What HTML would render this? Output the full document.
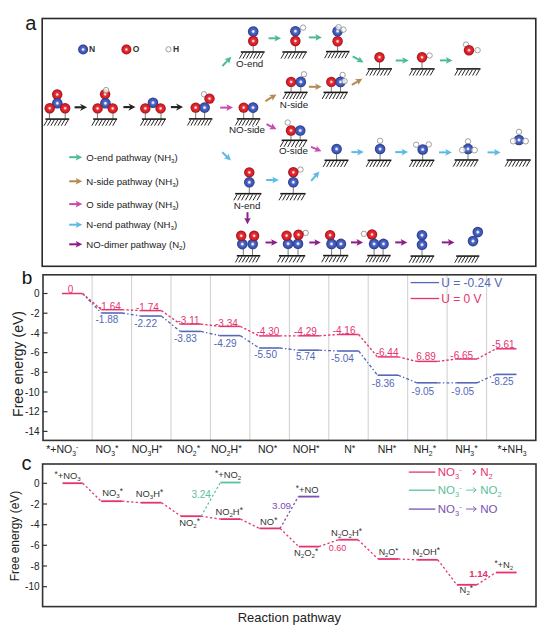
<!DOCTYPE html>
<html><head><meta charset="utf-8"><style>
html,body{margin:0;padding:0;background:#fff;}
svg{display:block;font-family:"Liberation Sans", sans-serif;}
</style></head><body>
<svg width="555" height="627" viewBox="0 0 555 627">
<defs>
<radialGradient id="gO" cx="0.5" cy="0.5" r="0.5" fx="0.5" fy="0.5">
<stop offset="0" stop-color="#ffffff"/><stop offset="0.13" stop-color="#fbd4d4"/><stop offset="0.35" stop-color="#e93036"/><stop offset="0.75" stop-color="#d21c24"/><stop offset="1" stop-color="#8e1218"/>
</radialGradient>
<radialGradient id="gN" cx="0.5" cy="0.5" r="0.5" fx="0.5" fy="0.5">
<stop offset="0" stop-color="#ffffff"/><stop offset="0.15" stop-color="#dfe6ff"/><stop offset="0.38" stop-color="#4d68c4"/><stop offset="0.75" stop-color="#3a52ac"/><stop offset="1" stop-color="#263684"/>
</radialGradient>
</defs>
<rect width="555" height="627" fill="#fff"/>
<rect x="42.2" y="18.5" width="493.6" height="247.8" fill="none" stroke="#2a2a2a" stroke-width="1.6"/>
<text x="25.3" y="29.6" font-size="20" fill="#1a1a1a" text-anchor="start" >a</text>
<circle cx="83.1" cy="49.5" r="5.0" fill="url(#gN)"/>
<text x="89.1" y="52.3" font-size="8.5" fill="#333" text-anchor="start" font-weight="bold">N</text>
<circle cx="126.4" cy="49.5" r="5.0" fill="url(#gO)"/>
<text x="132.8" y="52.3" font-size="8.5" fill="#333" text-anchor="start" font-weight="bold">O</text>
<circle cx="168.5" cy="49.3" r="2.6" fill="#fff" fill-opacity="0.82" stroke="#9a9a9a" stroke-width="0.95"/>
<text x="173.0" y="52.3" font-size="8.5" fill="#333" text-anchor="start" font-weight="bold">H</text>
<line x1="49.4" y1="112.0" x2="49.4" y2="119.0" stroke="#7a7a7a" stroke-width="1.0"/>
<line x1="65.2" y1="112.0" x2="65.2" y2="119.0" stroke="#7a7a7a" stroke-width="1.0"/>
<line x1="45.4" y1="119.1" x2="69.2" y2="119.1" stroke="#1a1a1a" stroke-width="1.6"/>
<path d="M44.0,125.7L47.4,119.8M47.5,125.7L50.9,119.8M50.9,125.7L54.3,119.8M54.4,125.7L57.8,119.8M57.9,125.7L61.3,119.8M61.3,125.7L64.7,119.8M64.8,125.7L68.2,119.8" stroke="#1a1a1a" stroke-width="0.95" fill="none"/>
<circle cx="57.2" cy="94.5" r="5.2" fill="url(#gO)"/>
<circle cx="57.3" cy="103.2" r="5.3" fill="url(#gN)"/>
<circle cx="49.7" cy="108.2" r="5.2" fill="url(#gO)"/>
<circle cx="65.1" cy="108.2" r="5.2" fill="url(#gO)"/>
<line x1="74.6" y1="107.3" x2="82.8" y2="107.3" stroke="#222" stroke-width="2.1"/>
<path d="M87.1,107.3L79.9,110.9L82.3,107.3L79.9,103.7Z" fill="#222"/>
<line x1="97.4" y1="112.0" x2="97.4" y2="119.0" stroke="#7a7a7a" stroke-width="1.0"/>
<line x1="113.0" y1="112.0" x2="113.0" y2="119.0" stroke="#7a7a7a" stroke-width="1.0"/>
<line x1="93.2" y1="119.1" x2="117.1" y2="119.1" stroke="#1a1a1a" stroke-width="1.6"/>
<path d="M91.8,125.7L95.2,119.8M95.3,125.7L98.7,119.8M98.8,125.7L102.2,119.8M102.2,125.7L105.7,119.8M105.7,125.7L109.1,119.8M109.2,125.7L112.6,119.8M112.7,125.7L116.1,119.8" stroke="#1a1a1a" stroke-width="0.95" fill="none"/>
<circle cx="105.1" cy="94.3" r="5.2" fill="url(#gO)"/>
<circle cx="105.4" cy="103.3" r="5.3" fill="url(#gN)"/>
<circle cx="106.1" cy="90.1" r="2.7" fill="#fff" fill-opacity="0.82" stroke="#9a9a9a" stroke-width="0.95"/>
<circle cx="97.6" cy="108.4" r="5.2" fill="url(#gO)"/>
<circle cx="112.7" cy="108.4" r="5.2" fill="url(#gO)"/>
<line x1="123.4" y1="107.1" x2="131.2" y2="107.1" stroke="#222" stroke-width="2.1"/>
<path d="M135.5,107.1L128.3,110.7L130.7,107.1L128.3,103.5Z" fill="#222"/>
<line x1="145.3" y1="112.0" x2="145.3" y2="119.0" stroke="#7a7a7a" stroke-width="1.0"/>
<line x1="161.0" y1="112.0" x2="161.0" y2="119.0" stroke="#7a7a7a" stroke-width="1.0"/>
<line x1="141.9" y1="119.1" x2="165.9" y2="119.1" stroke="#1a1a1a" stroke-width="1.6"/>
<path d="M140.5,125.7L143.9,119.8M144.0,125.7L147.4,119.8M147.5,125.7L150.9,119.8M151.0,125.7L154.4,119.8M154.5,125.7L157.9,119.8M158.0,125.7L161.4,119.8M161.5,125.7L164.9,119.8" stroke="#1a1a1a" stroke-width="0.95" fill="none"/>
<circle cx="153.0" cy="102.7" r="5.3" fill="url(#gN)"/>
<circle cx="145.3" cy="108.4" r="5.2" fill="url(#gO)"/>
<circle cx="160.6" cy="108.4" r="5.2" fill="url(#gO)"/>
<line x1="170.9" y1="107.1" x2="178.8" y2="107.1" stroke="#222" stroke-width="2.1"/>
<path d="M183.1,107.1L175.9,110.7L178.3,107.1L175.9,103.5Z" fill="#222"/>
<line x1="195.7" y1="112.0" x2="195.7" y2="119.0" stroke="#7a7a7a" stroke-width="1.0"/>
<line x1="204.6" y1="112.0" x2="204.6" y2="119.0" stroke="#7a7a7a" stroke-width="1.0"/>
<line x1="188.9" y1="118.9" x2="212.4" y2="118.9" stroke="#1a1a1a" stroke-width="1.6"/>
<path d="M187.5,125.5L190.9,119.6M190.9,125.5L194.3,119.6M194.3,125.5L197.7,119.6M197.8,125.5L201.2,119.6M201.2,125.5L204.6,119.6M204.6,125.5L208.0,119.6M208.0,125.5L211.4,119.6" stroke="#1a1a1a" stroke-width="0.95" fill="none"/>
<circle cx="204.0" cy="94.3" r="2.7" fill="#fff" fill-opacity="0.82" stroke="#9a9a9a" stroke-width="0.95"/>
<circle cx="195.7" cy="107.6" r="5.2" fill="url(#gO)"/>
<circle cx="204.6" cy="107.6" r="5.3" fill="url(#gN)"/>
<circle cx="209.5" cy="98.6" r="5.2" fill="url(#gO)"/>
<line x1="220.2" y1="107.6" x2="228.3" y2="107.6" stroke="#c84bb0" stroke-width="2.0"/>
<path d="M233.0,107.6L226.4,110.9L227.8,107.6L226.4,104.3Z" fill="#c84bb0"/>
<line x1="243.7" y1="112.0" x2="243.7" y2="119.0" stroke="#7a7a7a" stroke-width="1.0"/>
<line x1="253.0" y1="112.0" x2="253.0" y2="119.0" stroke="#7a7a7a" stroke-width="1.0"/>
<line x1="236.8" y1="118.9" x2="260.3" y2="118.9" stroke="#1a1a1a" stroke-width="1.6"/>
<path d="M235.4,125.5L238.8,119.6M238.8,125.5L242.2,119.6M242.2,125.5L245.6,119.6M245.7,125.5L249.1,119.6M249.1,125.5L252.5,119.6M252.5,125.5L255.9,119.6M255.9,125.5L259.3,119.6" stroke="#1a1a1a" stroke-width="0.95" fill="none"/>
<circle cx="243.7" cy="107.6" r="5.2" fill="url(#gO)"/>
<circle cx="253.0" cy="107.6" r="5.3" fill="url(#gN)"/>
<text x="247.0" y="132.5" font-size="9.8" fill="#222" text-anchor="middle" >NO-side</text>
<line x1="222.4" y1="66.0" x2="228.1" y2="60.1" stroke="#4dbb98" stroke-width="2.0"/>
<path d="M231.4,56.8L229.1,63.8L227.7,60.5L224.4,59.2Z" fill="#4dbb98"/>
<line x1="253.2" y1="45.0" x2="253.2" y2="52.0" stroke="#7a7a7a" stroke-width="1.0"/>
<line x1="240.8" y1="52.0" x2="264.6" y2="52.0" stroke="#1a1a1a" stroke-width="1.6"/>
<path d="M239.4,58.6L242.8,52.7M242.9,58.6L246.3,52.7M246.3,58.6L249.7,52.7M249.8,58.6L253.2,52.7M253.3,58.6L256.7,52.7M256.7,58.6L260.1,52.7M260.2,58.6L263.6,52.7" stroke="#1a1a1a" stroke-width="0.95" fill="none"/>
<circle cx="253.2" cy="31.5" r="5.3" fill="url(#gN)"/>
<circle cx="253.2" cy="41.0" r="5.2" fill="url(#gO)"/>
<text x="249.7" y="66.8" font-size="9.8" fill="#222" text-anchor="middle" >O-end</text>
<line x1="268.6" y1="38.3" x2="276.4" y2="38.3" stroke="#4dbb98" stroke-width="2.0"/>
<path d="M281.1,38.3L274.5,41.6L275.9,38.3L274.5,35.0Z" fill="#4dbb98"/>
<line x1="295.4" y1="45.0" x2="295.4" y2="52.0" stroke="#7a7a7a" stroke-width="1.0"/>
<line x1="282.4" y1="52.0" x2="306.8" y2="52.0" stroke="#1a1a1a" stroke-width="1.6"/>
<path d="M281.0,58.6L284.4,52.7M284.6,58.6L288.0,52.7M288.1,58.6L291.5,52.7M291.7,58.6L295.1,52.7M295.3,58.6L298.7,52.7M298.8,58.6L302.2,52.7M302.4,58.6L305.8,52.7" stroke="#1a1a1a" stroke-width="0.95" fill="none"/>
<circle cx="303.1" cy="27.6" r="2.7" fill="#fff" fill-opacity="0.82" stroke="#9a9a9a" stroke-width="0.95"/>
<circle cx="295.4" cy="31.2" r="5.3" fill="url(#gN)"/>
<circle cx="295.4" cy="41.0" r="5.2" fill="url(#gO)"/>
<line x1="308.9" y1="37.4" x2="317.2" y2="37.4" stroke="#4dbb98" stroke-width="2.0"/>
<path d="M321.9,37.4L315.3,40.7L316.7,37.4L315.3,34.1Z" fill="#4dbb98"/>
<line x1="337.6" y1="45.0" x2="337.6" y2="52.0" stroke="#7a7a7a" stroke-width="1.0"/>
<line x1="326.0" y1="51.6" x2="349.5" y2="51.6" stroke="#1a1a1a" stroke-width="1.6"/>
<path d="M324.6,58.2L328.0,52.3M328.0,58.2L331.4,52.3M331.4,58.2L334.8,52.3M334.9,58.2L338.2,52.3M338.3,58.2L341.7,52.3M341.7,58.2L345.1,52.3M345.1,58.2L348.5,52.3" stroke="#1a1a1a" stroke-width="0.95" fill="none"/>
<circle cx="337.6" cy="31.2" r="5.3" fill="url(#gN)"/>
<circle cx="338.6" cy="27.2" r="2.7" fill="#fff" fill-opacity="0.82" stroke="#9a9a9a" stroke-width="0.95"/>
<circle cx="343.5" cy="29.6" r="2.7" fill="#fff" fill-opacity="0.82" stroke="#9a9a9a" stroke-width="0.95"/>
<circle cx="337.6" cy="41.3" r="5.2" fill="url(#gO)"/>
<line x1="352.7" y1="56.3" x2="359.5" y2="60.2" stroke="#4dbb98" stroke-width="2.0"/>
<path d="M363.6,62.6L356.2,62.1L359.1,60.0L359.5,56.4Z" fill="#4dbb98"/>
<line x1="379.5" y1="61.0" x2="379.5" y2="68.9" stroke="#7a7a7a" stroke-width="1.0"/>
<line x1="367.6" y1="68.9" x2="392.0" y2="68.9" stroke="#1a1a1a" stroke-width="1.6"/>
<path d="M366.2,75.5L369.6,69.6M369.8,75.5L373.2,69.6M373.3,75.5L376.7,69.6M376.9,75.5L380.3,69.6M380.5,75.5L383.9,69.6M384.0,75.5L387.4,69.6M387.6,75.5L391.0,69.6" stroke="#1a1a1a" stroke-width="0.95" fill="none"/>
<circle cx="379.5" cy="57.2" r="5.2" fill="url(#gO)"/>
<line x1="395.7" y1="60.5" x2="404.1" y2="60.5" stroke="#4dbb98" stroke-width="2.0"/>
<path d="M408.8,60.5L402.2,63.8L403.6,60.5L402.2,57.2Z" fill="#4dbb98"/>
<line x1="422.0" y1="61.0" x2="422.0" y2="68.9" stroke="#7a7a7a" stroke-width="1.0"/>
<line x1="410.8" y1="68.9" x2="434.6" y2="68.9" stroke="#1a1a1a" stroke-width="1.6"/>
<path d="M409.4,75.5L412.8,69.6M412.9,75.5L416.3,69.6M416.3,75.5L419.7,69.6M419.8,75.5L423.2,69.6M423.3,75.5L426.7,69.6M426.7,75.5L430.1,69.6M430.2,75.5L433.6,69.6" stroke="#1a1a1a" stroke-width="0.95" fill="none"/>
<circle cx="429.6" cy="55.5" r="2.7" fill="#fff" fill-opacity="0.82" stroke="#9a9a9a" stroke-width="0.95"/>
<circle cx="422.0" cy="57.3" r="5.2" fill="url(#gO)"/>
<line x1="440.0" y1="60.4" x2="447.8" y2="60.4" stroke="#4dbb98" stroke-width="2.0"/>
<path d="M452.5,60.4L445.9,63.7L447.3,60.4L445.9,57.1Z" fill="#4dbb98"/>
<line x1="456.2" y1="68.9" x2="480.5" y2="68.9" stroke="#1a1a1a" stroke-width="1.6"/>
<path d="M454.8,75.5L458.2,69.6M458.4,75.5L461.8,69.6M461.9,75.5L465.3,69.6M465.5,75.5L468.9,69.6M469.0,75.5L472.4,69.6M472.6,75.5L475.9,69.6M476.1,75.5L479.5,69.6" stroke="#1a1a1a" stroke-width="0.95" fill="none"/>
<circle cx="466.0" cy="44.6" r="2.7" fill="#fff" fill-opacity="0.82" stroke="#9a9a9a" stroke-width="0.95"/>
<circle cx="477.6" cy="50.2" r="2.7" fill="#fff" fill-opacity="0.82" stroke="#9a9a9a" stroke-width="0.95"/>
<circle cx="469.0" cy="50.2" r="5.2" fill="url(#gO)"/>
<line x1="265.4" y1="101.1" x2="272.4" y2="96.9" stroke="#b48a52" stroke-width="2.0"/>
<path d="M276.5,94.5L272.5,100.7L272.0,97.1L269.1,95.0Z" fill="#b48a52"/>
<line x1="291.1" y1="85.0" x2="291.1" y2="92.4" stroke="#7a7a7a" stroke-width="1.0"/>
<line x1="300.8" y1="85.0" x2="300.8" y2="92.4" stroke="#7a7a7a" stroke-width="1.0"/>
<line x1="284.3" y1="92.4" x2="307.6" y2="92.4" stroke="#1a1a1a" stroke-width="1.6"/>
<path d="M282.9,99.0L286.3,93.1M286.3,99.0L289.7,93.1M289.7,99.0L293.1,93.1M293.1,99.0L296.5,93.1M296.4,99.0L299.8,93.1M299.8,99.0L303.2,93.1M303.2,99.0L306.6,93.1" stroke="#1a1a1a" stroke-width="0.95" fill="none"/>
<circle cx="291.1" cy="81.9" r="5.2" fill="url(#gO)"/>
<circle cx="300.8" cy="81.9" r="5.3" fill="url(#gN)"/>
<circle cx="304.0" cy="74.3" r="2.7" fill="#fff" fill-opacity="0.82" stroke="#9a9a9a" stroke-width="0.95"/>
<text x="294.0" y="107.6" font-size="9.8" fill="#222" text-anchor="middle" >N-side</text>
<line x1="308.9" y1="86.8" x2="317.0" y2="86.8" stroke="#b48a52" stroke-width="2.0"/>
<path d="M321.7,86.8L315.1,90.1L316.5,86.8L315.1,83.5Z" fill="#b48a52"/>
<line x1="331.3" y1="85.0" x2="331.3" y2="92.4" stroke="#7a7a7a" stroke-width="1.0"/>
<line x1="340.5" y1="85.0" x2="340.5" y2="92.4" stroke="#7a7a7a" stroke-width="1.0"/>
<line x1="323.5" y1="92.4" x2="347.8" y2="92.4" stroke="#1a1a1a" stroke-width="1.6"/>
<path d="M322.1,99.0L325.5,93.1M325.7,99.0L329.1,93.1M329.2,99.0L332.6,93.1M332.8,99.0L336.1,93.1M336.3,99.0L339.7,93.1M339.9,99.0L343.2,93.1M343.4,99.0L346.8,93.1" stroke="#1a1a1a" stroke-width="0.95" fill="none"/>
<circle cx="342.6" cy="74.9" r="2.7" fill="#fff" fill-opacity="0.82" stroke="#9a9a9a" stroke-width="0.95"/>
<circle cx="331.3" cy="81.9" r="5.2" fill="url(#gO)"/>
<circle cx="340.5" cy="81.9" r="5.3" fill="url(#gN)"/>
<circle cx="344.6" cy="81.1" r="2.7" fill="#fff" fill-opacity="0.82" stroke="#9a9a9a" stroke-width="0.95"/>
<line x1="351.9" y1="84.9" x2="358.2" y2="81.1" stroke="#b48a52" stroke-width="2.0"/>
<path d="M362.3,78.7L358.3,84.9L357.8,81.3L354.9,79.2Z" fill="#b48a52"/>
<line x1="266.5" y1="124.1" x2="272.3" y2="127.1" stroke="#c84bb0" stroke-width="2.0"/>
<path d="M276.5,129.3L269.1,129.2L271.8,126.9L272.1,123.3Z" fill="#c84bb0"/>
<line x1="291.0" y1="134.0" x2="291.0" y2="140.3" stroke="#7a7a7a" stroke-width="1.0"/>
<line x1="300.2" y1="134.0" x2="300.2" y2="140.3" stroke="#7a7a7a" stroke-width="1.0"/>
<line x1="281.6" y1="140.3" x2="307.2" y2="140.3" stroke="#1a1a1a" stroke-width="1.6"/>
<path d="M280.2,146.9L283.6,141.0M284.0,146.9L287.4,141.0M287.7,146.9L291.1,141.0M291.5,146.9L294.9,141.0M295.3,146.9L298.7,141.0M299.0,146.9L302.4,141.0M302.8,146.9L306.2,141.0" stroke="#1a1a1a" stroke-width="0.95" fill="none"/>
<circle cx="287.7" cy="122.5" r="2.7" fill="#fff" fill-opacity="0.82" stroke="#9a9a9a" stroke-width="0.95"/>
<circle cx="291.0" cy="130.5" r="5.2" fill="url(#gO)"/>
<circle cx="300.2" cy="130.5" r="5.3" fill="url(#gN)"/>
<text x="293.4" y="154.2" font-size="9.8" fill="#222" text-anchor="middle" >O-side</text>
<line x1="311.0" y1="146.8" x2="317.1" y2="149.4" stroke="#c84bb0" stroke-width="2.0"/>
<path d="M321.4,151.3L314.1,151.7L316.7,149.2L316.7,145.7Z" fill="#c84bb0"/>
<line x1="336.6" y1="152.0" x2="336.6" y2="160.3" stroke="#7a7a7a" stroke-width="1.0"/>
<line x1="324.5" y1="160.3" x2="348.5" y2="160.3" stroke="#1a1a1a" stroke-width="1.6"/>
<path d="M323.1,166.9L326.5,161.0M326.6,166.9L330.0,161.0M330.1,166.9L333.5,161.0M333.6,166.9L337.0,161.0M337.1,166.9L340.5,161.0M340.6,166.9L344.0,161.0M344.1,166.9L347.5,161.0" stroke="#1a1a1a" stroke-width="0.95" fill="none"/>
<circle cx="336.6" cy="149.0" r="5.3" fill="url(#gN)"/>
<line x1="351.4" y1="152.1" x2="359.1" y2="152.1" stroke="#5cbbe6" stroke-width="2.0"/>
<path d="M363.8,152.1L357.2,155.4L358.6,152.1L357.2,148.8Z" fill="#5cbbe6"/>
<line x1="380.1" y1="152.0" x2="380.1" y2="160.3" stroke="#7a7a7a" stroke-width="1.0"/>
<line x1="367.6" y1="160.3" x2="391.4" y2="160.3" stroke="#1a1a1a" stroke-width="1.6"/>
<path d="M366.2,166.9L369.6,161.0M369.7,166.9L373.1,161.0M373.1,166.9L376.5,161.0M376.6,166.9L380.0,161.0M380.1,166.9L383.5,161.0M383.5,166.9L386.9,161.0M387.0,166.9L390.4,161.0" stroke="#1a1a1a" stroke-width="0.95" fill="none"/>
<circle cx="380.1" cy="140.8" r="2.7" fill="#fff" fill-opacity="0.82" stroke="#9a9a9a" stroke-width="0.95"/>
<circle cx="380.1" cy="149.0" r="5.3" fill="url(#gN)"/>
<line x1="395.2" y1="152.1" x2="403.4" y2="152.1" stroke="#5cbbe6" stroke-width="2.0"/>
<path d="M408.1,152.1L401.5,155.4L402.9,152.1L401.5,148.8Z" fill="#5cbbe6"/>
<line x1="422.7" y1="152.0" x2="422.7" y2="160.3" stroke="#7a7a7a" stroke-width="1.0"/>
<line x1="410.8" y1="160.3" x2="434.4" y2="160.3" stroke="#1a1a1a" stroke-width="1.6"/>
<path d="M409.4,166.9L412.8,161.0M412.8,166.9L416.2,161.0M416.3,166.9L419.7,161.0M419.7,166.9L423.1,161.0M423.1,166.9L426.5,161.0M426.6,166.9L430.0,161.0M430.0,166.9L433.4,161.0" stroke="#1a1a1a" stroke-width="0.95" fill="none"/>
<circle cx="416.2" cy="144.7" r="2.7" fill="#fff" fill-opacity="0.82" stroke="#9a9a9a" stroke-width="0.95"/>
<circle cx="428.8" cy="144.4" r="2.7" fill="#fff" fill-opacity="0.82" stroke="#9a9a9a" stroke-width="0.95"/>
<circle cx="422.7" cy="149.5" r="5.3" fill="url(#gN)"/>
<line x1="439.0" y1="152.4" x2="447.2" y2="152.4" stroke="#5cbbe6" stroke-width="2.0"/>
<path d="M451.9,152.4L445.3,155.7L446.7,152.4L445.3,149.1Z" fill="#5cbbe6"/>
<line x1="468.0" y1="152.0" x2="468.0" y2="160.0" stroke="#7a7a7a" stroke-width="1.0"/>
<line x1="454.6" y1="160.0" x2="478.4" y2="160.0" stroke="#1a1a1a" stroke-width="1.6"/>
<path d="M453.2,166.6L456.6,160.7M456.7,166.6L460.1,160.7M460.1,166.6L463.5,160.7M463.6,166.6L467.0,160.7M467.1,166.6L470.5,160.7M470.5,166.6L473.9,160.7M474.0,166.6L477.4,160.7" stroke="#1a1a1a" stroke-width="0.95" fill="none"/>
<circle cx="468.0" cy="141.4" r="2.7" fill="#fff" fill-opacity="0.82" stroke="#9a9a9a" stroke-width="0.95"/>
<circle cx="468.0" cy="148.9" r="5.3" fill="url(#gN)"/>
<circle cx="462.4" cy="150.1" r="2.9" fill="#fff" fill-opacity="0.82" stroke="#9a9a9a" stroke-width="0.95"/>
<circle cx="474.5" cy="150.1" r="2.9" fill="#fff" fill-opacity="0.82" stroke="#9a9a9a" stroke-width="0.95"/>
<line x1="487.5" y1="152.4" x2="495.9" y2="152.4" stroke="#5cbbe6" stroke-width="2.0"/>
<path d="M500.6,152.4L494.0,155.7L495.4,152.4L494.0,149.1Z" fill="#5cbbe6"/>
<line x1="506.5" y1="160.0" x2="530.7" y2="160.0" stroke="#1a1a1a" stroke-width="1.6"/>
<path d="M505.1,166.6L508.5,160.7M508.6,166.6L512.0,160.7M512.2,166.6L515.6,160.7M515.7,166.6L519.1,160.7M519.2,166.6L522.6,160.7M522.8,166.6L526.2,160.7M526.3,166.6L529.7,160.7" stroke="#1a1a1a" stroke-width="0.95" fill="none"/>
<circle cx="519.0" cy="131.8" r="2.7" fill="#fff" fill-opacity="0.82" stroke="#9a9a9a" stroke-width="0.95"/>
<circle cx="519.0" cy="140.0" r="5.3" fill="url(#gN)"/>
<circle cx="513.2" cy="141.1" r="2.9" fill="#fff" fill-opacity="0.82" stroke="#9a9a9a" stroke-width="0.95"/>
<circle cx="525.6" cy="141.1" r="2.9" fill="#fff" fill-opacity="0.82" stroke="#9a9a9a" stroke-width="0.95"/>
<line x1="222.3" y1="152.3" x2="227.5" y2="157.2" stroke="#5cbbe6" stroke-width="2.0"/>
<path d="M230.9,160.4L223.9,158.3L227.1,156.8L228.4,153.4Z" fill="#5cbbe6"/>
<line x1="249.3" y1="186.0" x2="249.3" y2="193.7" stroke="#7a7a7a" stroke-width="1.0"/>
<line x1="235.2" y1="193.7" x2="261.4" y2="193.7" stroke="#1a1a1a" stroke-width="1.6"/>
<path d="M233.8,200.3L237.2,194.4M237.7,200.3L241.1,194.4M241.5,200.3L244.9,194.4M245.4,200.3L248.8,194.4M249.3,200.3L252.7,194.4M253.1,200.3L256.5,194.4M257.0,200.3L260.4,194.4" stroke="#1a1a1a" stroke-width="0.95" fill="none"/>
<circle cx="249.3" cy="172.4" r="5.2" fill="url(#gO)"/>
<circle cx="249.3" cy="182.3" r="5.3" fill="url(#gN)"/>
<text x="247.0" y="208.5" font-size="9.8" fill="#222" text-anchor="middle" >N-end</text>
<line x1="266.2" y1="180.0" x2="274.2" y2="180.0" stroke="#5cbbe6" stroke-width="2.0"/>
<path d="M278.9,180.0L272.3,183.3L273.7,180.0L272.3,176.7Z" fill="#5cbbe6"/>
<line x1="293.3" y1="186.0" x2="293.3" y2="193.7" stroke="#7a7a7a" stroke-width="1.0"/>
<line x1="280.3" y1="193.7" x2="305.6" y2="193.7" stroke="#1a1a1a" stroke-width="1.6"/>
<path d="M278.9,200.3L282.3,194.4M282.6,200.3L286.0,194.4M286.3,200.3L289.7,194.4M290.1,200.3L293.5,194.4M293.8,200.3L297.2,194.4M297.5,200.3L300.9,194.4M301.2,200.3L304.6,194.4" stroke="#1a1a1a" stroke-width="0.95" fill="none"/>
<circle cx="300.5" cy="169.5" r="2.7" fill="#fff" fill-opacity="0.82" stroke="#9a9a9a" stroke-width="0.95"/>
<circle cx="293.3" cy="172.3" r="5.2" fill="url(#gO)"/>
<circle cx="293.3" cy="182.2" r="5.3" fill="url(#gN)"/>
<line x1="311.1" y1="180.8" x2="316.3" y2="175.0" stroke="#5cbbe6" stroke-width="2.0"/>
<path d="M319.4,171.5L317.5,178.6L315.9,175.4L312.5,174.2Z" fill="#5cbbe6"/>
<line x1="247.5" y1="212.2" x2="247.5" y2="219.6" stroke="#8a1f88" stroke-width="2.0"/>
<path d="M247.5,224.3L244.2,217.7L247.5,219.1L250.8,217.7Z" fill="#8a1f88"/>
<line x1="243.3" y1="247.0" x2="243.3" y2="255.7" stroke="#7a7a7a" stroke-width="1.0"/>
<line x1="252.5" y1="247.0" x2="252.5" y2="255.7" stroke="#7a7a7a" stroke-width="1.0"/>
<line x1="236.8" y1="255.8" x2="260.3" y2="255.8" stroke="#1a1a1a" stroke-width="1.6"/>
<path d="M235.4,262.4L238.8,256.5M238.8,262.4L242.2,256.5M242.2,262.4L245.6,256.5M245.7,262.4L249.1,256.5M249.1,262.4L252.5,256.5M252.5,262.4L255.9,256.5M255.9,262.4L259.3,256.5" stroke="#1a1a1a" stroke-width="0.95" fill="none"/>
<circle cx="242.3" cy="244.1" r="5.3" fill="url(#gN)"/>
<circle cx="252.7" cy="244.1" r="5.3" fill="url(#gN)"/>
<circle cx="241.2" cy="235.8" r="5.2" fill="url(#gO)"/>
<circle cx="254.1" cy="235.8" r="5.2" fill="url(#gO)"/>
<line x1="265.5" y1="242.5" x2="273.0" y2="242.5" stroke="#8a1f88" stroke-width="2.0"/>
<path d="M277.7,242.5L271.1,245.8L272.5,242.5L271.1,239.2Z" fill="#8a1f88"/>
<line x1="288.1" y1="247.0" x2="288.1" y2="255.7" stroke="#7a7a7a" stroke-width="1.0"/>
<line x1="298.0" y1="247.0" x2="298.0" y2="255.7" stroke="#7a7a7a" stroke-width="1.0"/>
<line x1="279.0" y1="255.8" x2="305.2" y2="255.8" stroke="#1a1a1a" stroke-width="1.6"/>
<path d="M277.6,262.4L281.0,256.5M281.5,262.4L284.9,256.5M285.3,262.4L288.7,256.5M289.2,262.4L292.6,256.5M293.1,262.4L296.5,256.5M296.9,262.4L300.3,256.5M300.8,262.4L304.2,256.5" stroke="#1a1a1a" stroke-width="0.95" fill="none"/>
<circle cx="305.7" cy="232.9" r="2.7" fill="#fff" fill-opacity="0.82" stroke="#9a9a9a" stroke-width="0.95"/>
<circle cx="288.1" cy="243.7" r="5.3" fill="url(#gN)"/>
<circle cx="298.0" cy="243.7" r="5.3" fill="url(#gN)"/>
<circle cx="286.6" cy="235.6" r="5.2" fill="url(#gO)"/>
<circle cx="298.5" cy="234.7" r="5.2" fill="url(#gO)"/>
<line x1="309.3" y1="242.5" x2="316.2" y2="242.5" stroke="#8a1f88" stroke-width="2.0"/>
<path d="M320.9,242.5L314.3,245.8L315.7,242.5L314.3,239.2Z" fill="#8a1f88"/>
<line x1="331.6" y1="247.0" x2="331.6" y2="255.7" stroke="#7a7a7a" stroke-width="1.0"/>
<line x1="340.6" y1="247.0" x2="340.6" y2="255.7" stroke="#7a7a7a" stroke-width="1.0"/>
<line x1="323.1" y1="255.6" x2="348.3" y2="255.6" stroke="#1a1a1a" stroke-width="1.6"/>
<path d="M321.7,262.2L325.1,256.3M325.4,262.2L328.8,256.3M329.1,262.2L332.5,256.3M332.8,262.2L336.2,256.3M336.5,262.2L339.9,256.3M340.2,262.2L343.6,256.3M343.9,262.2L347.3,256.3" stroke="#1a1a1a" stroke-width="0.95" fill="none"/>
<circle cx="330.1" cy="235.1" r="5.2" fill="url(#gO)"/>
<circle cx="340.9" cy="243.9" r="5.3" fill="url(#gN)"/>
<circle cx="331.5" cy="243.9" r="5.3" fill="url(#gN)"/>
<line x1="351.0" y1="242.4" x2="358.4" y2="242.4" stroke="#8a1f88" stroke-width="2.0"/>
<path d="M363.1,242.4L356.5,245.7L357.9,242.4L356.5,239.1Z" fill="#8a1f88"/>
<line x1="374.1" y1="247.0" x2="374.1" y2="255.7" stroke="#7a7a7a" stroke-width="1.0"/>
<line x1="383.1" y1="247.0" x2="383.1" y2="255.7" stroke="#7a7a7a" stroke-width="1.0"/>
<line x1="367.3" y1="255.6" x2="390.7" y2="255.6" stroke="#1a1a1a" stroke-width="1.6"/>
<path d="M365.9,262.2L369.3,256.3M369.3,262.2L372.7,256.3M372.7,262.2L376.1,256.3M376.1,262.2L379.5,256.3M379.5,262.2L382.9,256.3M382.9,262.2L386.3,256.3M386.3,262.2L389.7,256.3" stroke="#1a1a1a" stroke-width="0.95" fill="none"/>
<circle cx="363.9" cy="233.8" r="2.7" fill="#fff" fill-opacity="0.82" stroke="#9a9a9a" stroke-width="0.95"/>
<circle cx="372.0" cy="234.5" r="5.2" fill="url(#gO)"/>
<circle cx="383.5" cy="243.9" r="5.3" fill="url(#gN)"/>
<circle cx="374.1" cy="243.9" r="5.3" fill="url(#gN)"/>
<line x1="395.2" y1="242.4" x2="402.6" y2="242.4" stroke="#8a1f88" stroke-width="2.0"/>
<path d="M407.3,242.4L400.7,245.7L402.1,242.4L400.7,239.1Z" fill="#8a1f88"/>
<line x1="422.0" y1="249.0" x2="422.0" y2="256.1" stroke="#7a7a7a" stroke-width="1.0"/>
<line x1="410.5" y1="256.1" x2="434.2" y2="256.1" stroke="#1a1a1a" stroke-width="1.6"/>
<path d="M409.1,262.7L412.5,256.8M412.6,262.7L415.9,256.8M416.0,262.7L419.4,256.8M419.5,262.7L422.9,256.8M422.9,262.7L426.3,256.8M426.4,262.7L429.8,256.8M429.8,262.7L433.2,256.8" stroke="#1a1a1a" stroke-width="0.95" fill="none"/>
<circle cx="422.0" cy="235.2" r="5.3" fill="url(#gN)"/>
<circle cx="422.0" cy="244.7" r="5.3" fill="url(#gN)"/>
<line x1="441.8" y1="242.4" x2="449.8" y2="242.4" stroke="#8a1f88" stroke-width="2.0"/>
<path d="M454.5,242.4L447.9,245.7L449.3,242.4L447.9,239.1Z" fill="#8a1f88"/>
<line x1="456.2" y1="256.1" x2="479.3" y2="256.1" stroke="#1a1a1a" stroke-width="1.6"/>
<path d="M454.8,262.7L458.2,256.8M458.2,262.7L461.6,256.8M461.5,262.7L464.9,256.8M464.9,262.7L468.2,256.8M468.2,262.7L471.6,256.8M471.6,262.7L474.9,256.8M474.9,262.7L478.3,256.8" stroke="#1a1a1a" stroke-width="0.95" fill="none"/>
<circle cx="477.8" cy="232.1" r="5.3" fill="url(#gN)"/>
<circle cx="473.0" cy="241.1" r="5.3" fill="url(#gN)"/>
<line x1="69.2" y1="157.2" x2="77.6" y2="157.2" stroke="#4dbb98" stroke-width="2.0"/>
<path d="M82.3,157.2L75.7,160.5L77.1,157.2L75.7,153.9Z" fill="#4dbb98"/>
<text x="86.3" y="160.8" font-size="9.6" fill="#222" text-anchor="start" >O-end pathway (NH<tspan font-size="6.24" baseline-shift="-2.40">3</tspan>)</text>
<line x1="69.2" y1="181.3" x2="77.6" y2="181.3" stroke="#b48a52" stroke-width="2.0"/>
<path d="M82.3,181.3L75.7,184.6L77.1,181.3L75.7,178.0Z" fill="#b48a52"/>
<text x="86.3" y="184.9" font-size="9.6" fill="#222" text-anchor="start" >N-side pathway (NH<tspan font-size="6.24" baseline-shift="-2.40">3</tspan>)</text>
<line x1="69.2" y1="204.1" x2="77.6" y2="204.1" stroke="#c84bb0" stroke-width="2.0"/>
<path d="M82.3,204.1L75.7,207.4L77.1,204.1L75.7,200.8Z" fill="#c84bb0"/>
<text x="86.3" y="207.7" font-size="9.6" fill="#222" text-anchor="start" >O side pathway (NH<tspan font-size="6.24" baseline-shift="-2.40">3</tspan>)</text>
<line x1="69.2" y1="224.7" x2="77.6" y2="224.7" stroke="#5cbbe6" stroke-width="2.0"/>
<path d="M82.3,224.7L75.7,228.0L77.1,224.7L75.7,221.4Z" fill="#5cbbe6"/>
<text x="86.3" y="228.3" font-size="9.6" fill="#222" text-anchor="start" >N-end pathway (NH<tspan font-size="6.24" baseline-shift="-2.40">3</tspan>)</text>
<line x1="69.2" y1="244.3" x2="77.6" y2="244.3" stroke="#8a1f88" stroke-width="2.0"/>
<path d="M82.3,244.3L75.7,247.6L77.1,244.3L75.7,241.0Z" fill="#8a1f88"/>
<text x="86.3" y="247.9" font-size="9.6" fill="#222" text-anchor="start" >NO-dimer pathway (N<tspan font-size="6.24" baseline-shift="-2.40">2</tspan>)</text>
<text x="21.8" y="284.0" font-size="19" fill="#111" text-anchor="start" >b</text>
<line x1="92.1" y1="275" x2="92.1" y2="440" stroke="#c8c8c8" stroke-width="0.9"/>
<line x1="131.6" y1="275" x2="131.6" y2="440" stroke="#c8c8c8" stroke-width="0.9"/>
<line x1="171.0" y1="275" x2="171.0" y2="440" stroke="#c8c8c8" stroke-width="0.9"/>
<line x1="210.4" y1="275" x2="210.4" y2="440" stroke="#c8c8c8" stroke-width="0.9"/>
<line x1="249.9" y1="275" x2="249.9" y2="440" stroke="#c8c8c8" stroke-width="0.9"/>
<line x1="289.4" y1="275" x2="289.4" y2="440" stroke="#c8c8c8" stroke-width="0.9"/>
<line x1="328.8" y1="275" x2="328.8" y2="440" stroke="#c8c8c8" stroke-width="0.9"/>
<line x1="368.2" y1="275" x2="368.2" y2="440" stroke="#c8c8c8" stroke-width="0.9"/>
<line x1="407.7" y1="275" x2="407.7" y2="440" stroke="#c8c8c8" stroke-width="0.9"/>
<line x1="447.1" y1="275" x2="447.1" y2="440" stroke="#c8c8c8" stroke-width="0.9"/>
<line x1="486.6" y1="275" x2="486.6" y2="440" stroke="#c8c8c8" stroke-width="0.9"/>
<rect x="43" y="274.8" width="492.8" height="165.6" fill="none" stroke="#333" stroke-width="1.6"/>
<line x1="43" y1="293.5" x2="47.5" y2="293.5" stroke="#333" stroke-width="1.2"/>
<text x="39.5" y="297.1" font-size="10" fill="#222" text-anchor="end" >0</text>
<line x1="43" y1="313.2" x2="47.5" y2="313.2" stroke="#333" stroke-width="1.2"/>
<text x="39.5" y="316.8" font-size="10" fill="#222" text-anchor="end" >-2</text>
<line x1="43" y1="332.9" x2="47.5" y2="332.9" stroke="#333" stroke-width="1.2"/>
<text x="39.5" y="336.5" font-size="10" fill="#222" text-anchor="end" >-4</text>
<line x1="43" y1="352.6" x2="47.5" y2="352.6" stroke="#333" stroke-width="1.2"/>
<text x="39.5" y="356.2" font-size="10" fill="#222" text-anchor="end" >-6</text>
<line x1="43" y1="372.3" x2="47.5" y2="372.3" stroke="#333" stroke-width="1.2"/>
<text x="39.5" y="375.9" font-size="10" fill="#222" text-anchor="end" >-8</text>
<line x1="43" y1="392.0" x2="47.5" y2="392.0" stroke="#333" stroke-width="1.2"/>
<text x="39.5" y="395.6" font-size="10" fill="#222" text-anchor="end" >-10</text>
<line x1="43" y1="411.7" x2="47.5" y2="411.7" stroke="#333" stroke-width="1.2"/>
<text x="39.5" y="415.3" font-size="10" fill="#222" text-anchor="end" >-12</text>
<line x1="43" y1="431.4" x2="47.5" y2="431.4" stroke="#333" stroke-width="1.2"/>
<text x="39.5" y="435.0" font-size="10" fill="#222" text-anchor="end" >-14</text>
<text x="0" y="0" font-size="14" fill="#222" text-anchor="middle" transform="translate(22.5,364) rotate(-90)">Free energy (eV)</text>
<path d="M82.5,293.5L101.4,313.0M122.0,313.0L140.8,316.0M161.4,316.0L180.2,331.4M200.9,331.4L219.7,335.6M240.3,335.6L259.1,348.0M279.8,348.0L298.6,350.2M319.2,350.2L338.1,351.0M358.7,351.0L377.5,375.2M398.1,375.2L416.9,382.8M437.6,382.8L456.4,382.8M477.0,382.8L495.9,374.4" stroke="#5467b8" stroke-width="1.35" fill="none" stroke-dasharray="3,2.2,1.4,2.2"/>
<path d="M82.5,293.5L101.4,309.7M122.0,309.7L140.8,310.6M161.4,310.6L180.2,324.1M200.9,324.1L219.7,326.4M240.3,326.4L259.1,335.9M279.8,335.9L298.6,335.8M319.2,335.8L338.1,334.5M358.7,334.5L377.5,356.9M398.1,356.9L416.9,361.4M437.6,361.4L456.4,359.0M477.0,359.0L495.9,348.8" stroke="#e5336f" stroke-width="1.35" fill="none" stroke-dasharray="2.4,2"/>
<line x1="61.9" y1="293.5" x2="82.5" y2="293.5" stroke="#e5336f" stroke-width="1.5"/>
<line x1="101.4" y1="313.0" x2="122.0" y2="313.0" stroke="#5467b8" stroke-width="1.6"/>
<line x1="101.4" y1="309.7" x2="122.0" y2="309.7" stroke="#e5336f" stroke-width="1.5"/>
<line x1="140.8" y1="316.0" x2="161.4" y2="316.0" stroke="#5467b8" stroke-width="1.6"/>
<line x1="140.8" y1="310.6" x2="161.4" y2="310.6" stroke="#e5336f" stroke-width="1.5"/>
<line x1="180.2" y1="331.4" x2="200.9" y2="331.4" stroke="#5467b8" stroke-width="1.6"/>
<line x1="180.2" y1="324.1" x2="200.9" y2="324.1" stroke="#e5336f" stroke-width="1.5"/>
<line x1="219.7" y1="335.6" x2="240.3" y2="335.6" stroke="#5467b8" stroke-width="1.6"/>
<line x1="219.7" y1="326.4" x2="240.3" y2="326.4" stroke="#e5336f" stroke-width="1.5"/>
<line x1="259.1" y1="348.0" x2="279.8" y2="348.0" stroke="#5467b8" stroke-width="1.6"/>
<line x1="259.1" y1="335.9" x2="279.8" y2="335.9" stroke="#e5336f" stroke-width="1.5"/>
<line x1="298.6" y1="350.2" x2="319.2" y2="350.2" stroke="#5467b8" stroke-width="1.6"/>
<line x1="298.6" y1="335.8" x2="319.2" y2="335.8" stroke="#e5336f" stroke-width="1.5"/>
<line x1="338.1" y1="351.0" x2="358.7" y2="351.0" stroke="#5467b8" stroke-width="1.6"/>
<line x1="338.1" y1="334.5" x2="358.7" y2="334.5" stroke="#e5336f" stroke-width="1.5"/>
<line x1="377.5" y1="375.2" x2="398.1" y2="375.2" stroke="#5467b8" stroke-width="1.6"/>
<line x1="377.5" y1="356.9" x2="398.1" y2="356.9" stroke="#e5336f" stroke-width="1.5"/>
<line x1="416.9" y1="382.8" x2="437.6" y2="382.8" stroke="#5467b8" stroke-width="1.6"/>
<line x1="416.9" y1="361.4" x2="437.6" y2="361.4" stroke="#e5336f" stroke-width="1.5"/>
<line x1="456.4" y1="382.8" x2="477.0" y2="382.8" stroke="#5467b8" stroke-width="1.6"/>
<line x1="456.4" y1="359.0" x2="477.0" y2="359.0" stroke="#e5336f" stroke-width="1.5"/>
<line x1="495.9" y1="374.4" x2="516.5" y2="374.4" stroke="#5467b8" stroke-width="1.6"/>
<line x1="495.9" y1="348.8" x2="516.5" y2="348.8" stroke="#e5336f" stroke-width="1.5"/>
<text x="67.8" y="293.0" font-size="10" fill="#e5336f" text-anchor="start" >0</text>
<text x="98.0" y="310.0" font-size="10" fill="#e5336f" text-anchor="start" >-1.64</text>
<text x="136.0" y="310.8" font-size="10" fill="#e5336f" text-anchor="start" >-1.74</text>
<text x="177.5" y="324.4" font-size="10" fill="#e5336f" text-anchor="start" >-3.11</text>
<text x="215.0" y="326.7" font-size="10" fill="#e5336f" text-anchor="start" >-3.34</text>
<text x="256.5" y="335.2" font-size="10" fill="#e5336f" text-anchor="start" >-4.30</text>
<text x="294.0" y="335.0" font-size="10" fill="#e5336f" text-anchor="start" >-4.29</text>
<text x="332.7" y="334.0" font-size="10" fill="#e5336f" text-anchor="start" >-4.16</text>
<text x="375.7" y="356.2" font-size="10" fill="#e5336f" text-anchor="start" >-6.44</text>
<text x="416.3" y="360.4" font-size="10" fill="#e5336f" text-anchor="start" >6.89</text>
<text x="450.3" y="358.5" font-size="10" fill="#e5336f" text-anchor="start" >-6.65</text>
<text x="491.8" y="348.4" font-size="10" fill="#e5336f" text-anchor="start" >-5.61</text>
<text x="95.5" y="323.2" font-size="10" fill="#5467b8" text-anchor="start" >-1.88</text>
<text x="134.2" y="326.7" font-size="10" fill="#5467b8" text-anchor="start" >-2.22</text>
<text x="174.0" y="342.2" font-size="10" fill="#5467b8" text-anchor="start" >-3.83</text>
<text x="213.8" y="346.8" font-size="10" fill="#5467b8" text-anchor="start" >-4.29</text>
<text x="254.2" y="358.2" font-size="10" fill="#5467b8" text-anchor="start" >-5.50</text>
<text x="295.9" y="360.3" font-size="10" fill="#5467b8" text-anchor="start" >5.74</text>
<text x="331.0" y="361.7" font-size="10" fill="#5467b8" text-anchor="start" >-5.04</text>
<text x="371.8" y="387.0" font-size="10" fill="#5467b8" text-anchor="start" >-8.36</text>
<text x="411.4" y="394.5" font-size="10" fill="#5467b8" text-anchor="start" >-9.05</text>
<text x="451.3" y="394.5" font-size="10" fill="#5467b8" text-anchor="start" >-9.05</text>
<text x="490.9" y="385.4" font-size="10" fill="#5467b8" text-anchor="start" >-8.25</text>
<line x1="410.6" y1="282.6" x2="439.1" y2="282.6" stroke="#5467b8" stroke-width="1.3"/>
<text x="441.2" y="287.2" font-size="12" fill="#5467b8" text-anchor="start" >U = -0.24 V</text>
<line x1="410.6" y1="298.5" x2="439.1" y2="298.5" stroke="#e5336f" stroke-width="1.3"/>
<text x="441.2" y="303.3" font-size="12" fill="#e5336f" text-anchor="start" >U = 0 V</text>
<text x="46.2" y="453.0" font-size="10.5" fill="#222" text-anchor="start" >*+NO<tspan font-size="6.83" baseline-shift="-2.62">3</tspan><tspan font-size="6.83" baseline-shift="3.99">-</tspan></text>
<text x="95.4" y="453.0" font-size="10.5" fill="#222" text-anchor="start" >NO<tspan font-size="6.83" baseline-shift="-2.62">3</tspan><tspan font-size="9.24" baseline-shift="2.10">*</tspan></text>
<text x="131.7" y="453.0" font-size="10.5" fill="#222" text-anchor="start" >NO<tspan font-size="6.83" baseline-shift="-2.62">3</tspan>H<tspan font-size="9.24" baseline-shift="2.10">*</tspan></text>
<text x="177.1" y="453.0" font-size="10.5" fill="#222" text-anchor="start" >NO<tspan font-size="6.83" baseline-shift="-2.62">2</tspan><tspan font-size="9.24" baseline-shift="2.10">*</tspan></text>
<text x="211.0" y="453.0" font-size="10.5" fill="#222" text-anchor="start" >NO<tspan font-size="6.83" baseline-shift="-2.62">2</tspan>H<tspan font-size="9.24" baseline-shift="2.10">*</tspan></text>
<text x="257.9" y="453.0" font-size="10.5" fill="#222" text-anchor="start" >NO<tspan font-size="9.24" baseline-shift="2.10">*</tspan></text>
<text x="292.7" y="453.0" font-size="10.5" fill="#222" text-anchor="start" >NOH<tspan font-size="9.24" baseline-shift="2.10">*</tspan></text>
<text x="344.2" y="453.0" font-size="10.5" fill="#222" text-anchor="start" >N<tspan font-size="9.24" baseline-shift="2.10">*</tspan></text>
<text x="377.7" y="453.0" font-size="10.5" fill="#222" text-anchor="start" >NH<tspan font-size="9.24" baseline-shift="2.10">*</tspan></text>
<text x="413.7" y="453.0" font-size="10.5" fill="#222" text-anchor="start" >NH<tspan font-size="6.83" baseline-shift="-2.62">2</tspan><tspan font-size="9.24" baseline-shift="2.10">*</tspan></text>
<text x="455.2" y="453.0" font-size="10.5" fill="#222" text-anchor="start" >NH<tspan font-size="6.83" baseline-shift="-2.62">3</tspan><tspan font-size="9.24" baseline-shift="2.10">*</tspan></text>
<text x="497.4" y="453.0" font-size="10.5" fill="#222" text-anchor="start" >*+NH<tspan font-size="6.83" baseline-shift="-2.62">3</tspan></text>
<text x="21.6" y="469.6" font-size="20" fill="#1a1a1a" text-anchor="start" >c</text>
<rect x="42.6" y="464" width="493.4" height="142.6" fill="none" stroke="#333" stroke-width="1.6"/>
<line x1="42.6" y1="483.3" x2="47" y2="483.3" stroke="#333" stroke-width="1.2"/>
<text x="39.5" y="486.9" font-size="10" fill="#222" text-anchor="end" >0</text>
<line x1="42.6" y1="504.0" x2="47" y2="504.0" stroke="#333" stroke-width="1.2"/>
<text x="39.5" y="507.6" font-size="10" fill="#222" text-anchor="end" >-2</text>
<line x1="42.6" y1="524.7" x2="47" y2="524.7" stroke="#333" stroke-width="1.2"/>
<text x="39.5" y="528.3" font-size="10" fill="#222" text-anchor="end" >-4</text>
<line x1="42.6" y1="545.3" x2="47" y2="545.3" stroke="#333" stroke-width="1.2"/>
<text x="39.5" y="548.9" font-size="10" fill="#222" text-anchor="end" >-6</text>
<line x1="42.6" y1="566.0" x2="47" y2="566.0" stroke="#333" stroke-width="1.2"/>
<text x="39.5" y="569.6" font-size="10" fill="#222" text-anchor="end" >-8</text>
<line x1="42.6" y1="586.7" x2="47" y2="586.7" stroke="#333" stroke-width="1.2"/>
<text x="39.5" y="590.3" font-size="10" fill="#222" text-anchor="end" >-10</text>
<text x="0" y="0" font-size="12" fill="#222" text-anchor="middle" transform="translate(19,536) rotate(-90)">Free energy (eV)</text>
<text x="289.3" y="622.3" font-size="13" fill="#222" text-anchor="middle" >Reaction pathway</text>
<line x1="82.7" y1="483.2" x2="101.1" y2="501.2" stroke="#e5336f" stroke-width="1.3" stroke-dasharray="2.2,2.3"/>
<line x1="122.2" y1="501.2" x2="140.9" y2="502.7" stroke="#e5336f" stroke-width="1.3" stroke-dasharray="2.2,2.3"/>
<line x1="161.6" y1="502.7" x2="181.0" y2="516.2" stroke="#e5336f" stroke-width="1.3" stroke-dasharray="2.2,2.3"/>
<line x1="201.1" y1="516.2" x2="220.4" y2="519.1" stroke="#e5336f" stroke-width="1.3" stroke-dasharray="2.2,2.3"/>
<line x1="240.6" y1="519.1" x2="259.4" y2="528.4" stroke="#e5336f" stroke-width="1.3" stroke-dasharray="2.2,2.3"/>
<line x1="280.1" y1="528.4" x2="298.8" y2="546.6" stroke="#e5336f" stroke-width="1.3" stroke-dasharray="2.2,2.3"/>
<line x1="319.0" y1="546.6" x2="338.3" y2="539.7" stroke="#e5336f" stroke-width="1.3" stroke-dasharray="2.2,2.3"/>
<line x1="357.9" y1="539.7" x2="378.1" y2="559.0" stroke="#e5336f" stroke-width="1.3" stroke-dasharray="2.2,2.3"/>
<line x1="398.3" y1="559.0" x2="417.2" y2="559.8" stroke="#e5336f" stroke-width="1.3" stroke-dasharray="2.2,2.3"/>
<line x1="437.8" y1="559.8" x2="456.8" y2="584.8" stroke="#e5336f" stroke-width="1.3" stroke-dasharray="2.2,2.3"/>
<line x1="476.9" y1="584.8" x2="495.9" y2="572.5" stroke="#e5336f" stroke-width="1.3" stroke-dasharray="2.2,2.3"/>
<line x1="201.1" y1="516.2" x2="220.4" y2="482.5" stroke="#5cc09a" stroke-width="1.3" stroke-dasharray="2.2,2.3"/>
<line x1="280.1" y1="528.4" x2="298.3" y2="496.6" stroke="#7b4fb4" stroke-width="1.3" stroke-dasharray="2.2,2.3"/>
<line x1="62.5" y1="483.2" x2="82.7" y2="483.2" stroke="#e5336f" stroke-width="1.8"/>
<line x1="101.1" y1="501.2" x2="122.2" y2="501.2" stroke="#e5336f" stroke-width="1.8"/>
<line x1="140.9" y1="502.7" x2="161.6" y2="502.7" stroke="#e5336f" stroke-width="1.8"/>
<line x1="181.0" y1="516.2" x2="201.1" y2="516.2" stroke="#e5336f" stroke-width="1.8"/>
<line x1="220.4" y1="482.5" x2="240.6" y2="482.5" stroke="#5cc09a" stroke-width="1.8"/>
<line x1="220.4" y1="519.1" x2="240.6" y2="519.1" stroke="#e5336f" stroke-width="1.8"/>
<line x1="259.4" y1="528.4" x2="280.1" y2="528.4" stroke="#e5336f" stroke-width="1.8"/>
<line x1="298.3" y1="496.6" x2="319.3" y2="496.6" stroke="#7b4fb4" stroke-width="1.8"/>
<line x1="298.8" y1="546.6" x2="319.0" y2="546.6" stroke="#e5336f" stroke-width="1.8"/>
<line x1="338.3" y1="539.7" x2="357.9" y2="539.7" stroke="#e5336f" stroke-width="1.8"/>
<line x1="378.1" y1="559.0" x2="398.3" y2="559.0" stroke="#e5336f" stroke-width="1.8"/>
<line x1="417.2" y1="559.8" x2="437.8" y2="559.8" stroke="#e5336f" stroke-width="1.8"/>
<line x1="456.8" y1="584.8" x2="476.9" y2="584.8" stroke="#e5336f" stroke-width="1.8"/>
<line x1="495.9" y1="572.5" x2="516.6" y2="572.5" stroke="#e5336f" stroke-width="1.8"/>
<text x="54.5" y="479.1" font-size="9.4" fill="#333" text-anchor="start" ><tspan font-size="8.27" baseline-shift="1.88">*</tspan>+NO<tspan font-size="6.11" baseline-shift="-2.07">3</tspan></text>
<text x="102.3" y="496.4" font-size="9.4" fill="#333" text-anchor="start" >NO<tspan font-size="6.11" baseline-shift="-2.07">3</tspan><tspan font-size="8.27" baseline-shift="1.88">*</tspan></text>
<text x="135.8" y="497.4" font-size="9.4" fill="#333" text-anchor="start" >NO<tspan font-size="6.11" baseline-shift="-2.07">3</tspan>H<tspan font-size="8.27" baseline-shift="1.88">*</tspan></text>
<text x="179.3" y="526.2" font-size="9.4" fill="#333" text-anchor="start" >NO<tspan font-size="6.11" baseline-shift="-2.07">2</tspan><tspan font-size="8.27" baseline-shift="1.88">*</tspan></text>
<text x="215.0" y="478.3" font-size="9.4" fill="#333" text-anchor="start" ><tspan font-size="8.27" baseline-shift="1.88">*</tspan>+NO<tspan font-size="6.11" baseline-shift="-2.07">2</tspan></text>
<text x="215.4" y="514.7" font-size="9.4" fill="#333" text-anchor="start" >NO<tspan font-size="6.11" baseline-shift="-2.07">2</tspan>H<tspan font-size="8.27" baseline-shift="1.88">*</tspan></text>
<text x="260.1" y="525.0" font-size="9.4" fill="#333" text-anchor="start" >NO<tspan font-size="8.27" baseline-shift="1.88">*</tspan></text>
<text x="295.8" y="493.3" font-size="9.4" fill="#333" text-anchor="start" ><tspan font-size="8.27" baseline-shift="1.88">*</tspan>+NO</text>
<text x="294.0" y="556.4" font-size="9.4" fill="#333" text-anchor="start" >N<tspan font-size="6.11" baseline-shift="-2.07">2</tspan>O<tspan font-size="6.11" baseline-shift="-2.07">2</tspan><tspan font-size="8.27" baseline-shift="1.88">*</tspan></text>
<text x="331.1" y="536.2" font-size="9.4" fill="#333" text-anchor="start" >N<tspan font-size="6.11" baseline-shift="-2.07">2</tspan>O<tspan font-size="6.11" baseline-shift="-2.07">2</tspan>H<tspan font-size="8.27" baseline-shift="1.88">*</tspan></text>
<text x="378.7" y="555.1" font-size="8.9" fill="#333" text-anchor="start" >N<tspan font-size="5.79" baseline-shift="-1.96">2</tspan>O<tspan font-size="7.83" baseline-shift="1.78">*</tspan></text>
<text x="412.5" y="554.6" font-size="9.4" fill="#333" text-anchor="start" >N<tspan font-size="6.11" baseline-shift="-2.07">2</tspan>OH<tspan font-size="8.27" baseline-shift="1.88">*</tspan></text>
<text x="459.6" y="593.2" font-size="9.4" fill="#333" text-anchor="start" >N<tspan font-size="6.11" baseline-shift="-2.07">2</tspan><tspan font-size="8.27" baseline-shift="1.88">*</tspan></text>
<text x="494.4" y="568.1" font-size="9.4" fill="#333" text-anchor="start" ><tspan font-size="8.27" baseline-shift="1.88">*</tspan>+N<tspan font-size="6.11" baseline-shift="-2.07">2</tspan></text>
<text x="191.4" y="497.9" font-size="10.0" fill="#5cc09a" text-anchor="start" >3.24</text>
<text x="271.9" y="508.7" font-size="9.9" fill="#7b4fb4" text-anchor="start" >3.09</text>
<text x="328.8" y="550.8" font-size="9.0" fill="#e5336f" text-anchor="start" >0.60</text>
<text x="469.2" y="576.9" font-size="9.6" fill="#e5336f" text-anchor="start" font-weight="bold">1.14</text>
<line x1="408.8" y1="472.1" x2="435.3" y2="472.1" stroke="#e5336f" stroke-width="1.3"/>
<line x1="408.8" y1="490.2" x2="435.3" y2="490.2" stroke="#5cc09a" stroke-width="1.3"/>
<line x1="408.8" y1="509.1" x2="435.3" y2="509.1" stroke="#7b4fb4" stroke-width="1.3"/>
<text x="437.8" y="476.0" font-size="11.5" fill="#e5336f" text-anchor="start" >NO<tspan font-size="7.48" baseline-shift="-2.88">3</tspan><tspan font-size="7.48" baseline-shift="4.37">-</tspan></text>
<text x="480.2" y="476.0" font-size="11.5" fill="#e5336f" text-anchor="start" >N<tspan font-size="7.48" baseline-shift="-2.88">2</tspan></text>
<path d="M472.8,469.3L475.6,471.9L472.8,474.5" stroke="#e5336f" stroke-width="1.1" fill="none"/>
<text x="437.8" y="494.2" font-size="11.5" fill="#5cc09a" text-anchor="start" >NO<tspan font-size="7.48" baseline-shift="-2.88">3</tspan><tspan font-size="7.48" baseline-shift="4.37">-</tspan></text>
<text x="480.2" y="494.2" font-size="11.5" fill="#5cc09a" text-anchor="start" >NO<tspan font-size="7.48" baseline-shift="-2.88">2</tspan></text>
<path d="M466,490.1L476,490.1M473,487.5L476.3,490.1L473,492.7" stroke="#5cc09a" stroke-width="0.9" fill="none"/>
<text x="437.8" y="513.1" font-size="11.5" fill="#7b4fb4" text-anchor="start" >NO<tspan font-size="7.48" baseline-shift="-2.88">3</tspan><tspan font-size="7.48" baseline-shift="4.37">-</tspan></text>
<text x="480.2" y="513.1" font-size="11.5" fill="#7b4fb4" text-anchor="start" >NO</text>
<path d="M466,509.0L476,509.0M473,506.4L476.3,509.0L473,511.6" stroke="#7b4fb4" stroke-width="0.9" fill="none"/>
</svg>
</body></html>
